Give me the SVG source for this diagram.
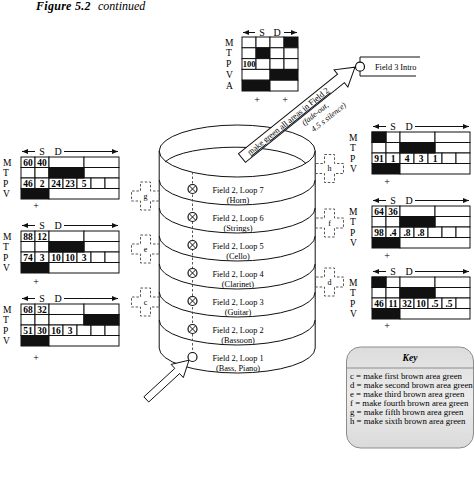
<svg xmlns="http://www.w3.org/2000/svg" width="474" height="496" viewBox="0 0 474 496">
<defs>
<style>
text{font-family:"Liberation Serif","Times New Roman",serif;fill:#000}
.ln{fill:none;stroke:#111;stroke-width:1}
.c{fill:#fff;stroke:#111;stroke-width:1}
.b{fill:#111;stroke:#111;stroke-width:1}
.lb{font-size:9.5px}
.hd{font-size:10px;text-anchor:middle}
.n{font-size:9.5px;font-weight:bold;text-anchor:middle}
.pl{font-size:10px;text-anchor:middle}
.lp{font-size:8.3px;text-anchor:middle}
.dx{fill:none;stroke:#444;stroke-width:0.9;stroke-dasharray:2.5 1.8}
.xl{font-size:8px;text-anchor:middle}
.k{font-size:8.8px}
.dl{fill:none;stroke:#444;stroke-width:0.9;stroke-dasharray:2.5 2}
.cir{fill:#fff;stroke:#111;stroke-width:1.2}
</style>
<marker id="ah" viewBox="0 0 6 5" refX="6" refY="2.5" markerWidth="6" markerHeight="5" markerUnits="userSpaceOnUse" orient="auto"><path d="M0,0 L6,2.5 L0,5 Z" fill="#111"/></marker>
<g id="hdr7">
<line class="ln" x1="14" y1="-5.5" x2="1" y2="-5.5" marker-end="url(#ah)"/>
<text class="hd" x="21" y="-2">S</text><text class="hd" x="37" y="-2">D</text>
<line class="ln" x1="43" y1="-5.5" x2="97" y2="-5.5" marker-end="url(#ah)"/>
</g>
<g id="grid7">
<rect class="c" x="0" y="0" width="14" height="10.5"/><rect class="c" x="14" y="0" width="14" height="10.5"/><rect class="c" x="28" y="0" width="35" height="10.5"/><rect class="c" x="63" y="0" width="35" height="10.5"/>
<rect class="c" x="0" y="10.5" width="14" height="10.5"/><rect class="c" x="14" y="10.5" width="14" height="10.5"/><rect class="c" x="28" y="10.5" width="35" height="10.5"/><rect class="c" x="63" y="10.5" width="35" height="10.5"/>
<rect class="c" x="0" y="21" width="14" height="10.5"/><rect class="c" x="14" y="21" width="14" height="10.5"/><rect class="c" x="28" y="21" width="14" height="10.5"/><rect class="c" x="42" y="21" width="14" height="10.5"/><rect class="c" x="56" y="21" width="14" height="10.5"/><rect class="c" x="70" y="21" width="14" height="10.5"/><rect class="c" x="84" y="21" width="14" height="10.5"/>
<rect class="b" x="0" y="31.5" width="28" height="10.5"/><rect class="c" x="28" y="31.5" width="70" height="10.5"/>
</g>
<path id="cross" d="M-5,-14H5V-5H14V5H5V14H-5V5H-14V-5H-5Z"/>
<linearGradient id="kg" x1="0" y1="0" x2="0" y2="1"><stop offset="0" stop-color="#dcdcdc"/><stop offset="0.5" stop-color="#ececec"/><stop offset="1" stop-color="#dadada"/></linearGradient>
</defs>

<g id="title">
<text x="36" y="10" font-size="12" font-weight="bold" font-style="italic" textLength="54.5" lengthAdjust="spacing">Figure 5.2</text>
<text x="98" y="10" font-size="12" font-style="italic">continued</text>
</g>

<!-- cylinder -->
<g id="cylinder">
<ellipse class="ln" cx="237.2" cy="151" rx="78" ry="26"/>
<path class="ln" d="M165,162 C185,143 285,141 306,163.5"/>
<path class="ln" d="M159.2,151 V348 M315.2,151 V348"/>
<path class="ln" d="M159.2,180 A78 25 0 0 0 315.2,180 M159.2,208 A78 25 0 0 0 315.2,208 M159.2,236 A78 25 0 0 0 315.2,236 M159.2,264 A78 25 0 0 0 315.2,264 M159.2,292 A78 25 0 0 0 315.2,292 M159.2,320 A78 25 0 0 0 315.2,320 M159.2,348 A78 25 0 0 0 315.2,348"/>
</g>

<g id="connectors">
<line class="dl" x1="192.5" y1="172" x2="192.5" y2="357"/>
<polygon points="189,360.2 183.3,377.6 179.6,373.6 148.7,402 143.9,396.8 174.8,368.4 171.1,364.4" fill="#fff" stroke="#111" stroke-width="1"/>
<g transform="translate(242,158) rotate(-38.8)">
<polygon points="0,-5.5 127,-5.5 127,-11 145,0 127,11 127,5.5 0,5.5" fill="#fff" stroke="#111" stroke-width="1"/>
<text x="8" y="3" font-size="8.3" text-decoration="underline">make green all areas in Field 2</text>
<text x="69" y="14" font-size="8" font-style="italic">(fade-out,</text>
<text x="72" y="25" font-size="8" font-style="italic">4.5 s silence)</text>
</g>
</g>

<!-- loops -->
<g id="loop7"><circle class="cir" cx="192.5" cy="189" r="4.5"/><path class="ln" d="M189.3,185.8 L195.7,192.2 M195.7,185.8 L189.3,192.2"/><text class="lp" x="238" y="192.5">Field 2, Loop 7</text><text class="lp" x="238" y="202.5">(Horn)</text></g>
<g id="loop6"><circle class="cir" cx="192.5" cy="217" r="4.5"/><path class="ln" d="M189.3,213.8 L195.7,220.2 M195.7,213.8 L189.3,220.2"/><text class="lp" x="238" y="220.5">Field 2, Loop 6</text><text class="lp" x="238" y="230.5">(Strings)</text></g>
<g id="loop5"><circle class="cir" cx="192.5" cy="245" r="4.5"/><path class="ln" d="M189.3,241.8 L195.7,248.2 M195.7,241.8 L189.3,248.2"/><text class="lp" x="238" y="248.5">Field 2, Loop 5</text><text class="lp" x="238" y="258.5">(Cello)</text></g>
<g id="loop4"><circle class="cir" cx="192.5" cy="273" r="4.5"/><path class="ln" d="M189.3,269.8 L195.7,276.2 M195.7,269.8 L189.3,276.2"/><text class="lp" x="238" y="276.5">Field 2, Loop 4</text><text class="lp" x="238" y="286.5">(Clarinet)</text></g>
<g id="loop3"><circle class="cir" cx="192.5" cy="301" r="4.5"/><path class="ln" d="M189.3,297.8 L195.7,304.2 M195.7,297.8 L189.3,304.2"/><text class="lp" x="238" y="304.5">Field 2, Loop 3</text><text class="lp" x="238" y="314.5">(Guitar)</text></g>
<g id="loop2"><circle class="cir" cx="192.5" cy="329" r="4.5"/><path class="ln" d="M189.3,325.8 L195.7,332.2 M195.7,325.8 L189.3,332.2"/><text class="lp" x="238" y="332.5">Field 2, Loop 2</text><text class="lp" x="238" y="342.5">(Bassoon)</text></g>
<g id="loop1"><circle class="cir" cx="192.5" cy="357" r="4.5"/><text class="lp" x="238" y="360.5">Field 2, Loop 1</text><text class="lp" x="238" y="370.5">(Bass, Piano)</text></g>

<!-- dashed crosses -->
<g id="cross-g"><use href="#cross" class="dx" x="145.5" y="196"/><text class="xl" x="145.5" y="198.8">g</text></g>
<g id="cross-e"><use href="#cross" class="dx" x="145.5" y="249"/><text class="xl" x="145.5" y="251.8">e</text></g>
<g id="cross-c"><use href="#cross" class="dx" x="145.5" y="302"/><text class="xl" x="145.5" y="304.8">c</text></g>
<g id="cross-h"><use href="#cross" class="dx" x="329.5" y="168.5"/><text class="xl" x="329.5" y="171.3">h</text></g>
<g id="cross-f"><use href="#cross" class="dx" x="329.5" y="223"/><text class="xl" x="329.5" y="225.8">f</text></g>
<g id="cross-d"><use href="#cross" class="dx" x="329.5" y="282"/><text class="xl" x="329.5" y="284.8">d</text></g>

<!-- Field 3 Intro -->
<g id="field3">
<path class="ln" d="M420,57 H360 V76 H416"/>
<circle class="cir" cx="360" cy="66.7" r="4.5"/>
<text x="375" y="69.5" font-size="8.3">Field 3 Intro</text>
</g>

<!-- top table -->
<g id="tbl-top">
<line class="ln" x1="255" y1="32.5" x2="243" y2="32.5" marker-end="url(#ah)"/>
<text class="hd" x="262" y="36">S</text><text class="hd" x="277" y="36">D</text>
<line class="ln" x1="284" y1="32.5" x2="297" y2="32.5" marker-end="url(#ah)"/>
<rect class="c" x="242" y="37" width="14" height="10.8"/><rect class="c" x="256" y="37" width="14" height="10.8"/><rect class="c" x="270" y="37" width="14" height="10.8"/><rect class="b" x="284" y="37" width="14" height="10.8"/>
<rect class="c" x="242" y="47.8" width="14" height="10.8"/><rect class="b" x="256" y="47.8" width="14" height="10.8"/><rect class="c" x="270" y="47.8" width="14" height="10.8"/><rect class="c" x="284" y="47.8" width="14" height="10.8"/>
<rect class="c" x="242" y="58.6" width="14" height="10.8"/><rect class="c" x="256" y="58.6" width="14" height="10.8"/><rect class="c" x="270" y="58.6" width="14" height="10.8"/><rect class="c" x="284" y="58.6" width="14" height="10.8"/>
<rect class="c" x="242" y="69.4" width="28" height="10.8"/><rect class="b" x="270" y="69.4" width="28" height="10.8"/>
<rect class="b" x="242" y="80.2" width="28" height="10.8"/><rect class="c" x="270" y="80.2" width="28" height="10.8"/>
<text x="242.8" y="66.8" font-size="8.5" font-weight="bold">100</text>
<text class="lb" x="225" y="45.5">M</text><text class="lb" x="226" y="56.3">T</text><text class="lb" x="226" y="67.1">P</text><text class="lb" x="226" y="77.9">V</text><text class="lb" x="226" y="88.7">A</text>
<text class="pl" x="257" y="102.5">+</text><text class="pl" x="285" y="102.5">+</text>
</g>

<!-- left tables -->
<g id="tbl-L1" transform="translate(21,157)">
<use href="#hdr7"/><use href="#grid7"/>
<rect class="b" x="28" y="10.5" width="35" height="10.5"/>
<text class="n" x="7" y="8.5">60</text><text class="n" x="21" y="8.5">40</text>
<text class="n" x="7" y="29.5">46</text><text class="n" x="21" y="29.5">2</text><text class="n" x="35" y="29.5">24</text><text class="n" x="49" y="29.5">23</text><text class="n" x="63" y="29.5">5</text>
<text class="lb" x="-18" y="8.5">M</text><text class="lb" x="-18" y="19">T</text><text class="lb" x="-18" y="29.5">P</text><text class="lb" x="-18" y="40">V</text>
<text class="pl" x="15" y="52">+</text>
</g>
<g id="tbl-L2" transform="translate(21,231)">
<use href="#hdr7"/><use href="#grid7"/>
<rect class="b" x="28" y="10.5" width="35" height="10.5"/>
<text class="n" x="7" y="8.5">88</text><text class="n" x="21" y="8.5">12</text>
<text class="n" x="7" y="29.5">74</text><text class="n" x="21" y="29.5">3</text><text class="n" x="35" y="29.5">10</text><text class="n" x="49" y="29.5">10</text><text class="n" x="63" y="29.5">3</text>
<text class="lb" x="-18" y="8.5">M</text><text class="lb" x="-18" y="19">T</text><text class="lb" x="-18" y="29.5">P</text><text class="lb" x="-18" y="40">V</text>
<text class="pl" x="15" y="53.5">+</text>
</g>
<g id="tbl-L3" transform="translate(21,304)">
<use href="#hdr7"/><use href="#grid7"/>
<rect class="b" x="63" y="10.5" width="35" height="10.5"/>
<text class="n" x="7" y="8.5">68</text><text class="n" x="21" y="8.5">32</text>
<text class="n" x="7" y="29.5">51</text><text class="n" x="21" y="29.5">30</text><text class="n" x="35" y="29.5">16</text><text class="n" x="49" y="29.5">3</text>
<text class="lb" x="-18" y="8.5">M</text><text class="lb" x="-18" y="19">T</text><text class="lb" x="-18" y="29.5">P</text><text class="lb" x="-18" y="40">V</text>
<text class="pl" x="15" y="56.5">+</text>
</g>

<!-- right tables -->
<g id="tbl-R1" transform="translate(372,132)">
<use href="#hdr7"/><use href="#grid7"/>
<rect class="b" x="0" y="0" width="14" height="10.5"/>
<rect class="b" x="28" y="10.5" width="35" height="10.5"/>
<text class="n" x="7" y="29.5">91</text><text class="n" x="21" y="29.5">1</text><text class="n" x="35" y="29.5">4</text><text class="n" x="49" y="29.5">3</text><text class="n" x="63" y="29.5">1</text>
<text class="lb" x="-23" y="8.5">M</text><text class="lb" x="-22" y="19">T</text><text class="lb" x="-22" y="29.5">P</text><text class="lb" x="-22" y="40">V</text>
<text class="pl" x="15" y="52.5">+</text>
</g>
<g id="tbl-R2" transform="translate(372,206)">
<use href="#hdr7"/><use href="#grid7"/>
<rect class="b" x="28" y="10.5" width="35" height="10.5"/>
<text class="n" x="7" y="8.5">64</text><text class="n" x="21" y="8.5">36</text>
<text class="n" x="7" y="29.5">98</text><text class="n" x="21" y="29.5">.4</text><text class="n" x="35" y="29.5">.8</text><text class="n" x="49" y="29.5">.8</text>
<text class="lb" x="-23" y="8.5">M</text><text class="lb" x="-22" y="19">T</text><text class="lb" x="-22" y="29.5">P</text><text class="lb" x="-22" y="40">V</text>
<text class="pl" x="15" y="53">+</text>
</g>
<g id="tbl-R3" transform="translate(372,277)">
<use href="#hdr7"/><use href="#grid7"/>
<rect class="b" x="0" y="0" width="14" height="10.5"/>
<rect class="b" x="28" y="10.5" width="35" height="10.5"/>
<text class="n" x="7" y="29.5">46</text><text class="n" x="21" y="29.5">11</text><text class="n" x="35" y="29.5">32</text><text class="n" x="49" y="29.5">10</text><text class="n" x="63" y="29.5">.5</text><text class="n" x="77" y="29.5">.5</text>
<text class="lb" x="-23" y="8.5">M</text><text class="lb" x="-22" y="19">T</text><text class="lb" x="-22" y="29.5">P</text><text class="lb" x="-22" y="40">V</text>
<text class="pl" x="15" y="52">+</text>
</g>

<!-- key -->
<g id="key">
<rect x="346.5" y="347" width="127" height="101" rx="14" fill="url(#kg)" stroke="#8c8c8c" stroke-width="1"/>
<line x1="346.5" y1="368" x2="473.5" y2="368" stroke="#8c8c8c" stroke-width="1"/>
<text x="410" y="361" font-size="9.5" font-weight="bold" font-style="italic" text-anchor="middle">Key</text>
<text class="k" x="350" y="379">c = make first brown area green</text>
<text class="k" x="350" y="388">d = make second brown area green</text>
<text class="k" x="350" y="397">e = make third brown area green</text>
<text class="k" x="350" y="406">f = make fourth brown area green</text>
<text class="k" x="350" y="415">g = make fifth brown area green</text>
<text class="k" x="350" y="424">h = make sixth brown area green</text>
</g>
</svg>
